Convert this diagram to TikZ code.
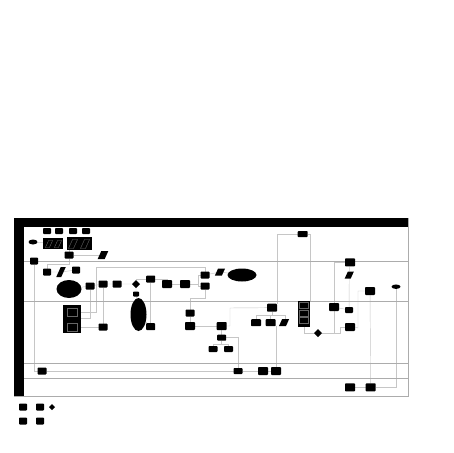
\documentclass[tikz,border=0pt]{standalone}
\usetikzlibrary{shapes.geometric}
\pgfdeclarelayer{bg}
\pgfsetlayers{bg,main}
\begin{document}
\begin{tikzpicture}[x=1pt,y=-1pt,
  tk/.style={shape=rectangle,fill=black,rounded corners=0.8pt,inner sep=0pt,outer sep=0pt},
  sz/.style 2 args={minimum width=#1pt,minimum height=#2pt},
  pgram/.style={shape=rectangle,xslant=0.45,transform shape,fill=black,inner sep=0pt,outer sep=0pt},
  gw/.style={diamond,fill=black,inner sep=0pt,outer sep=0pt,minimum size=8pt},
  ev/.style={ellipse,fill=black,inner sep=0pt,outer sep=0pt},
  grp/.style={shape=rectangle,fill=black,inner sep=0pt,outer sep=0pt},
  inner/.style={draw=black!60,line width=0.4pt,fill=none},
  conn/.style={draw=gray!45,line width=0.45pt},
  lane/.style={draw=gray!65,line width=0.5pt}]
\useasboundingbox (0,0) rectangle (453,453);
% pool
\draw[lane] (14,218) rectangle (408,396);
\fill[black] (14,218) rectangle (408,227);
\fill[black] (14,218) rectangle (24,396);
\foreach \yy in {261,301,363,378} \draw[lane] (24,\yy) -- (408,\yy);

% ---------- nodes: top lane
\node[tk,sz={8}{6}] (t1) at (47,231) {};
\node[tk,sz={8}{6}] (t2) at (59,231) {};
\node[tk,sz={8}{6}] (t3) at (73,231) {};
\node[tk,sz={8}{6}] (t4) at (86,231) {};
\node[ev,minimum width=9pt,minimum height=5pt] (ev1) at (33,242) {};
\node[grp,sz={20}{11}] (g1) at (53,243.5) {};
\node[pgram,inner,sz={4}{7}] (g1a) at (49,244) {};
\node[pgram,inner,sz={4}{7}] (g1b) at (58,244) {};
\node[grp,sz={25}{13}] (g2) at (79.5,243.5) {};
\node[pgram,inner,sz={5}{9}] (g2a) at (73,244) {};
\node[pgram,inner,sz={5}{9}] (g2b) at (85,244) {};
\node[tk,sz={9}{7}] (t5) at (69,255) {};
\node[pgram,sz={7}{8}] (p1) at (103,255) {};

% ---------- lane 2
\node[tk,sz={8}{7}] (t6) at (34,261) {};
\node[tk,sz={8}{7}] (t7) at (47,272) {};
\node[pgram,sz={5}{10}] (p2) at (61,272) {};
\node[tk,sz={8}{7}] (t8) at (76,270) {};
\node[ev,minimum width=25pt,minimum height=18pt] (e1) at (69,289) {};
\node[tk,sz={9}{7}] (t9) at (90,286) {};
\node[tk,sz={9}{7}] (t10) at (103,284) {};
\node[tk,sz={9}{7}] (t11) at (117,284) {};
\node[gw] (d1) at (136,284) {};
\node[tk,sz={6}{5}] (t12) at (136,294) {};
\node[tk,sz={9}{7}] (t13) at (150.7,279) {};
\node[tk,sz={10}{8}] (t14) at (167,284) {};
\node[tk,sz={10}{8}] (t15) at (185,284) {};
\node[tk,sz={9}{7}] (t16) at (205,275) {};
\node[tk,sz={9}{7}] (t17) at (205,286) {};
\node[pgram,sz={7}{7}] (p3) at (220,272) {};
\node[ev,minimum width=29pt,minimum height=13pt] (e2) at (242,275) {};

% ---------- lane 3
\node[grp,sz={18}{28}] (b1) at (72,319) {};
\node[inner,shape=rectangle,inner sep=0pt,sz={10}{8}] (b1a) at (72,312) {};
\node[inner,shape=rectangle,inner sep=0pt,sz={10}{8}] (b1b) at (72,327) {};
\node[tk,sz={9}{7}] (t18) at (103,327) {};
\node[ev,minimum width=16pt,minimum height=33pt] (e3) at (138.5,314.5) {};
\node[tk,sz={9}{7}] (t19) at (150.7,326.7) {};
\node[tk,sz={9}{7}] (t20) at (190,313) {};
\node[tk,sz={10}{8}] (t21) at (190,326) {};
\node[tk,sz={10}{8}] (t22) at (221.7,326) {};
\node[tk,sz={9}{6}] (t23) at (221.7,337.7) {};
\node[tk,sz={9}{6}] (t24) at (213,349) {};
\node[tk,sz={9}{6}] (t25) at (228.5,349) {};
\node[tk,sz={10}{8}] (t26) at (272,307.7) {};
\node[tk,sz={10}{7}] (t27) at (256,322.7) {};
\node[tk,sz={10}{7}] (t28) at (270.7,322.7) {};
\node[pgram,sz={7}{7}] (p4) at (284,322.7) {};
\node[grp,sz={12}{26}] (b2) at (304,314) {};
\node[inner,shape=rectangle,inner sep=0pt,sz={9}{6}] (b2a) at (304,305.5) {};
\node[inner,shape=rectangle,inner sep=0pt,sz={9}{6}] (b2b) at (304,313) {};
\node[inner,shape=rectangle,inner sep=0pt,sz={9}{6}] (b2c) at (304,320.5) {};
\node[tk,sz={10}{8}] (t29) at (334,307) {};
\node[gw] (d2) at (318,333) {};
\node[tk,sz={8}{6}] (t30) at (349,310) {};
\node[tk,sz={10}{8}] (t31) at (350,327) {};

% ---------- top right
\node[tk,sz={10}{6}] (t32) at (302.7,234) {};
\node[tk,sz={10}{8}] (t33) at (350,262.3) {};
\node[pgram,sz={6}{7}] (p5) at (349.3,275) {};
\node[tk,sz={10}{8}] (t34) at (370,291) {};
\node[ev,minimum width=9pt,minimum height=4.5pt] (ev2) at (396,286.7) {};

% ---------- lane 4 / 5
\node[tk,sz={9}{7}] (t35) at (42,371) {};
\node[tk,sz={9}{6}] (t36) at (238,371) {};
\node[tk,sz={10}{8}] (t37) at (263,371) {};
\node[tk,sz={10}{8}] (t38) at (276,371) {};
\node[tk,sz={10}{8}] (t39) at (350,387.3) {};
\node[tk,sz={10}{8}] (t40) at (370.7,387.3) {};

% ---------- legend
\node[tk,sz={8}{7}] (l1) at (23,407) {};
\node[tk,sz={8}{7}] (l2) at (40,407) {};
\node[gw,minimum size=6pt] (l3) at (52,407) {};
\node[tk,sz={8}{7}] (l4) at (23,421) {};
\node[tk,sz={8}{7}] (l5) at (40,421) {};

% ---------- helper coordinates
\coordinate (c1) at (47,264);
\coordinate (c2) at (96,267);
\coordinate (c3) at (221.7,344);
\coordinate (c4) at (230,308);
\coordinate (c5) at (272,315);
\coordinate (c6) at (205,298);
\coordinate (c7) at (340,333);
\coordinate (c8) at (358,328);
\coordinate (c9) at (198,284);
\coordinate (ba) at (81,312);
\coordinate (bb) at (81,318);
\coordinate (bd) at (81,327);

% ---------- connectors
\begin{pgfonlayer}{bg}
\draw[conn] (ev1) -- (g1);
\draw[conn] (g2.south -| t5) -- (t5);
\draw[conn] (t5) -- (p1);
\draw[conn] (t5.south) |- (c1) -- (t7.north);
\draw[conn] (t7) -- (p2) -- (t8);
\draw[conn] (t6.south) |- (t35.west);
\draw[conn] (e1) -- (t9) -- (t10) -- (t11) -- (d1);
\draw[conn] (d1.north) |- (t13.west);
\draw[conn] (d1) -- (t12) -- (e3);
\draw[conn] (t13.east) -| (t14.north);
\draw[conn] (t14) -- (t15);
\draw[conn] (t15.east) -- (c9) |- (t16.west);
\draw[conn] (c9) |- (t17.west);
\draw[conn] (t16) -- (p3) -- (e2);
\draw[conn] (t17.south) -- (c6) -| (t20.north);
\draw[conn] (ba) -| (c2) -| (t16.north);
\draw[conn] (bb) -| (t9.south);
\draw[conn] (bd) -- (t18.west);
\draw[conn] (t10) -- (t18);
\draw[conn] (t13) -- (t19);
\draw[conn] (e3) -- (t19);
\draw[conn] (t20) -- (t21) -- (t22) -- (t23);
\draw[conn] (t23.south) -- (c3) -| (t24.north);
\draw[conn] (c3) -| (t25.north);
\draw[conn] (t23.east) -| (t36.north);
\draw[conn] (t35) -- (t36) -- (t37) -- (t38);
\draw[conn] (t22.east) -| (c4) -- (t26.west);
\draw[conn] (t26.south) -- (c5) -| (t27.north);
\draw[conn] (c5) -| (t28.north);
\draw[conn] (c5) -| (p4.north);
\draw[conn] (t28.south -| t38.north) -- (t38.north);
\draw[conn] (t32.west) -| (t26.north east);
\draw[conn] (t32.east) -| (b2.north east);
\draw[conn] (b2.south) |- (d2.west);
\draw[conn] (d2.east) -| (t29.south);
\draw[conn] (d2.east) -- (c7) |- (t31.west);
\draw[conn] (t33.west) -| (t29.north);
\draw[conn] (t29) -- (t30);
\draw[conn] (t33) -- (p5) -- (t30);
\draw[conn] (t34.west) -| (c8) -- (t31.east);
\draw[conn] (t34) -- (t40);
\draw[conn] (ev2.south) |- (t40.east);
\draw[conn] (t39) -- (t40);
\end{pgfonlayer}
\end{tikzpicture}
\end{document}
